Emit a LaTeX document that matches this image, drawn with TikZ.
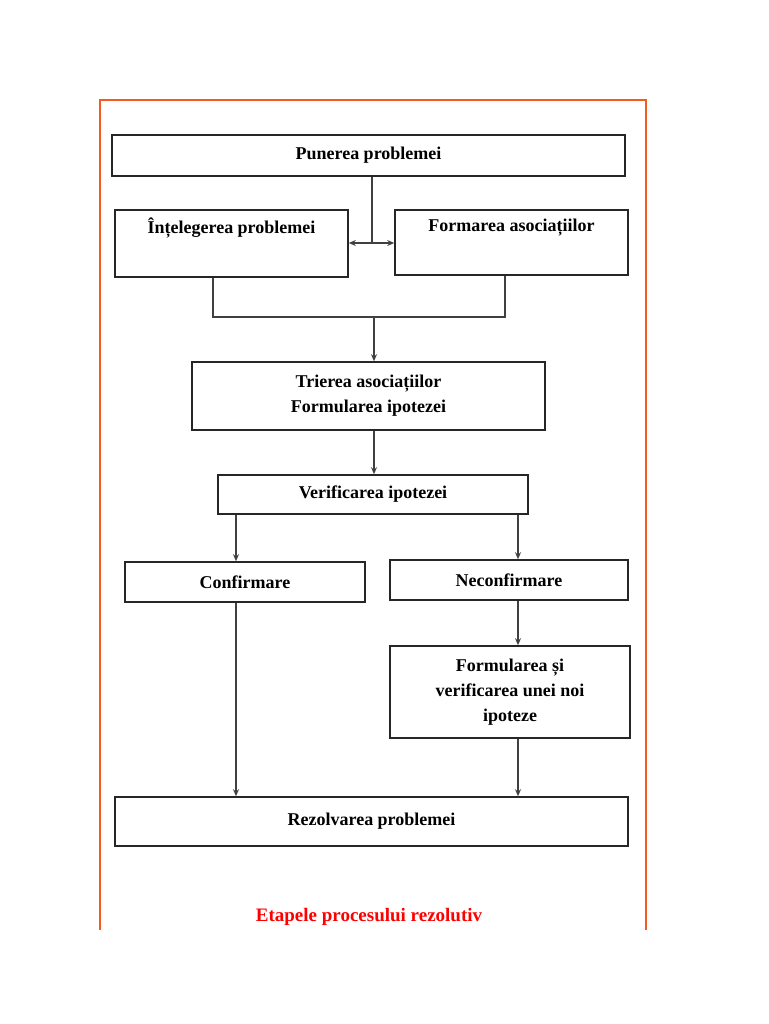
\documentclass[tikz,border=0pt]{standalone}
\usepackage{fontspec}
\setmainfont{Liberation Serif}
\usetikzlibrary{arrows.meta}
\begin{document}
\begin{tikzpicture}[x=1pt,y=-1pt,
  tf/.style={font=\bfseries\fontsize{18}{25}\selectfont},
  box/.style={draw=black!85,line width=1.6pt,inner sep=0pt,tf,align=center},
  con/.style={draw=black!75,line width=1.3pt},
  arr/.style={con,-{Stealth[length=7pt,width=6pt]}}]
\useasboundingbox (0,0) rectangle (768,1024);
\draw[draw={rgb,255:red,245;green,90;blue,30},line width=1.5pt] (100,930) -- (100,100) -- (646,100) -- (646,930);
\node[box,minimum width=513,minimum height=41] (p) at (368.5,155.5) {Punerea problemei};
\node[box,minimum width=233,minimum height=67] (i) at (231.5,243.5) {};
\node[tf] (it) at (231.5,228) {Înțelegerea problemei};
\node[box,minimum width=233,minimum height=65] (f) at (511.5,242.5) {};
\node[tf] (ft) at (511.5,228) {Formarea asociațiilor};
\coordinate (j) at (372,243);
\draw[con] (p.south -| j) -- (j);
\draw[arr] (j) -- (i.east |- j);
\draw[arr] (j) -- (f.west |- j);
\coordinate (bl) at (213,317);
\coordinate (br) at (505,317);
\coordinate (bm) at (374,317);
\draw[con] (i.south -| bl) -- (bl) -- (br) -- (f.south -| br);
\node[box,minimum width=353,minimum height=68] (t) at (368.5,396) {Trierea asociațiilor\\Formularea ipotezei};
\draw[arr] (bm) -- (t.north -| bm);
\node[box,minimum width=310,minimum height=39] (v) at (373,494.5) {Verificarea ipotezei};
\draw[arr] (t.south -| bm) -- (v.north -| bm);
\node[box,minimum width=240,minimum height=40] (c) at (245,582) {Confirmare};
\node[box,minimum width=238,minimum height=40] (n) at (509,580) {Neconfirmare};
\coordinate (xl) at (236,0); \coordinate (xr) at (518,0);
\draw[arr] (v.south -| xl) -- (c.north -| xl);
\draw[arr] (v.south -| xr) -- (n.north -| xr);
\node[box,minimum width=240,minimum height=92] (fo) at (510,692) {Formularea și\\verificarea unei noi\\ipoteze};
\draw[arr] (n.south -| xr) -- (fo.north -| xr);
\node[box,minimum width=513,minimum height=49] (r) at (371.5,821.5) {Rezolvarea problemei};
\draw[arr] (c.south -| xl) -- (r.north -| xl);
\draw[arr] (fo.south -| xr) -- (r.north -| xr);
\node[text=red,font=\bfseries\fontsize{19}{22}\selectfont] (cap) at (369,917) {Etapele procesului rezolutiv};
\end{tikzpicture}
\end{document}
